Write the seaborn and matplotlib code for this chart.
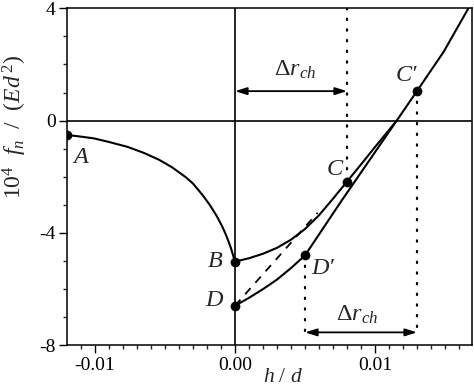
import numpy as np
import pandas as pd
import matplotlib
matplotlib.use("Agg")
import matplotlib.pyplot as plt
import seaborn as sns
from matplotlib.ticker import MultipleLocator, FixedLocator

# ---------------- data ----------------
# upper curve A -> B -> C -> meeting point on the zero line
upper_x = [-0.012, -0.011, -0.0101, -0.009, -0.0077, -0.0065, -0.0054, -0.0045,
           -0.0035, -0.003, -0.0023, -0.0018, -0.0013, -0.0009, -0.0006, -0.0003, 0.0,
           0.001, 0.002, 0.003, 0.004, 0.005, 0.006, 0.007, 0.008, 0.009, 0.010, 0.01155]
upper_y = [-0.51, -0.57, -0.63, -0.76, -0.93, -1.15, -1.40, -1.66,
           -2.02, -2.24, -2.66, -3.00, -3.40, -3.78, -4.12, -4.52, -5.02,
           -4.90, -4.74, -4.53, -4.24, -3.86, -3.37, -2.78, -2.17, -1.56, -0.94, 0.0]
# lower curve D -> D' -> C' -> top
lower_x = [0.0, 0.001, 0.002, 0.003, 0.004, 0.005, 0.0076, 0.01155, 0.01302, 0.0149, 0.01667]
lower_y = [-6.59, -6.31, -6.00, -5.66, -5.25, -4.80, -2.86, 0.0, 1.07, 2.45, 4.0]
# dashed chord from D
dash_x = [0.0, 0.0059]
dash_y = [-6.59, -3.28]
# labelled points
point_names = ["A", "B", "C", "C′", "D", "D′"]
point_x = [-0.012, 0.0, 0.008, 0.013, 0.0, 0.005]
point_y = [-0.51, -5.02, -2.17, 1.07, -6.59, -4.80]
# ticks
xticks = [-0.01, 0.0, 0.01]
xtick_labels = ["-0.01", "0.00", "0.01"]
yticks = [-8, -4, 0, 4]
ytick_labels = ["-8", "-4", "0", "4"]

# ---------------- style ----------------
sns.set_style("ticks")
plt.rcParams["font.family"] = ["Liberation Serif", "DejaVu Serif"]
plt.rcParams["mathtext.fontset"] = "custom"
plt.rcParams["mathtext.rm"] = "Liberation Serif"
plt.rcParams["mathtext.it"] = "Liberation Serif:italic"
plt.rcParams["mathtext.bf"] = "Liberation Serif:bold"
plt.rcParams["axes.unicode_minus"] = False

fig = plt.figure(figsize=(4.74, 3.91), dpi=100)
ax = fig.add_axes([0.1424, 0.1169, 0.9968 - 0.1424, 0.9788 - 0.1169])

lw = 1.5
ax.axhline(0, color="k", lw=1.2, zorder=1)
ax.axvline(0, color="k", lw=1.2, zorder=1)

sns.lineplot(x=upper_x, y=upper_y, sort=False, estimator=None, color="k", lw=lw, ax=ax)
sns.lineplot(x=lower_x, y=lower_y, sort=False, estimator=None, color="k", lw=lw, ax=ax)
ax.plot(dash_x, dash_y, color="k", lw=1.3, linestyle=(0, (4.5, 4)))

pts = pd.DataFrame({"x": point_x, "y": point_y, "name": point_names})
sns.scatterplot(data=pts, x="x", y="y", color="k", s=42, edgecolor="k", zorder=5,
                ax=ax, legend=False)

# dotted guides
dot = dict(color="k", lw=1.6, linestyle=(0, (0.6, 4.2)), dash_capstyle="round")
ax.plot([point_x[2], point_x[2]], [4.0, point_y[2]], **dot)
ax.plot([point_x[5], point_x[5]], [point_y[5], -7.55], **dot)
ax.plot([point_x[3], point_x[3]], [point_y[3], -7.55], **dot)

# arrows
arr = dict(arrowstyle="<|-|>,head_length=0.7,head_width=0.22", color="k", lw=1.3,
           shrinkA=0, shrinkB=0)
ax.annotate("", xy=(0.008, 1.05), xytext=(0.0, 1.05), arrowprops=arr)
ax.annotate("", xy=(0.013, -7.54), xytext=(0.005, -7.54), arrowprops=arr)
dr = r"$\Delta r_{ch}$"
ax.text(0.0043, 1.8, dr, fontsize=17.5, ha="center", va="center")
ax.text(0.0087, -6.91, dr, fontsize=17.5, ha="center", va="center")

# point labels
label_pos = {"A": (-0.0110, -1.32), "B": (-0.00143, -5.02), "C": (0.00714, -1.75),
             "C′": (0.01226, 1.59), "D": (-0.0015, -6.40), "D′": (0.00625, -5.28)}
for name in point_names:
    lx, ly = label_pos[name]
    ax.text(lx, ly, name, fontsize=17.5, style="italic", ha="center", va="center")

ax.set_xlim(-0.01196, 0.01696)
ax.set_ylim(-8, 4)
ax.xaxis.set_major_locator(FixedLocator(xticks))
ax.set_xticklabels(xtick_labels)
ax.xaxis.set_minor_locator(MultipleLocator(0.001))
ax.yaxis.set_major_locator(FixedLocator(yticks))
ax.set_yticklabels(ytick_labels)
ax.yaxis.set_minor_locator(MultipleLocator(1))
ax.tick_params(which="major", direction="out", length=5.5, width=1.0, labelsize=14,
               pad=3, colors="k")
ax.tick_params(which="minor", direction="out", length=3, width=1.0)
for sp in ax.spines.values():
    sp.set_linewidth(1.1)
    sp.set_color("k")

ax.set_xlabel(r"$h\ /\ d$", fontsize=15.5)
ax.xaxis.set_label_coords(0.532, -0.068)
ax.set_ylabel(r"$10^4\ \ f_n\ \ /\ \ (Ed^{\,2})$", fontsize=17)
ax.yaxis.set_label_coords(-0.095, 0.648)

fig.savefig("out.png", dpi=100)
